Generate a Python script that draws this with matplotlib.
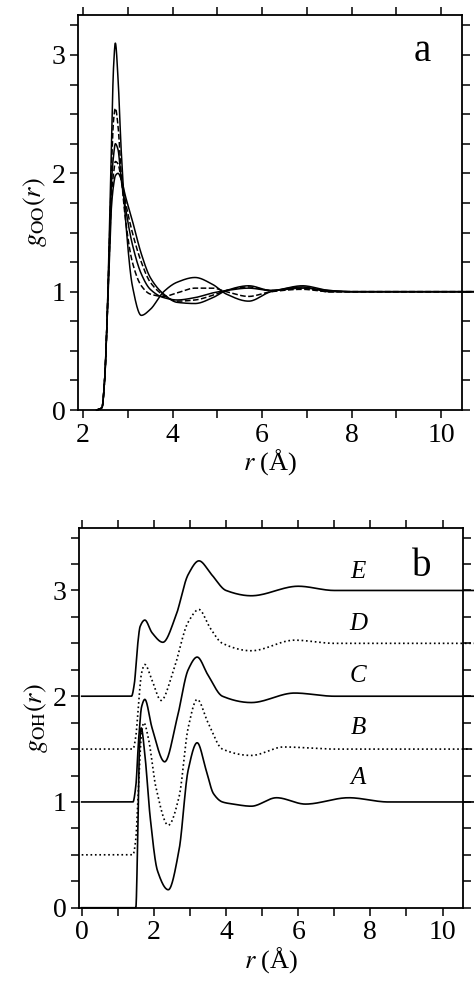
import numpy as np
import matplotlib
matplotlib.use("Agg")
import matplotlib.pyplot as plt
from matplotlib.ticker import MultipleLocator

plt.rcParams['font.family'] = ['Liberation Serif', 'DejaVu Serif']
plt.rcParams['mathtext.fontset'] = 'stix'

# ---- panel a: g_OO(r) ----
r_oo = [2.3, 2.42, 2.48, 2.53, 2.58, 2.63, 2.68, 2.72, 2.78, 2.85, 2.95, 3.1, 3.3, 3.5, 3.8, 4.1, 4.5,
        4.9, 5.2, 5.7, 6.2, 6.9, 7.5, 8.0, 10.74]
g_oo_1 = [0, 0.02, 0.25, 0.7, 1.4, 2.2, 2.9, 3.1, 2.8, 2.2, 1.6, 1.05, 0.8, 0.85, 1.0, 1.08, 1.12, 1.06, 0.98, 0.92, 1.0, 1.04, 1.0, 1.0, 1.0]
g_oo_2 = [0, 0.02, 0.25, 0.7, 1.35, 2.0, 2.45, 2.55, 2.4, 2.0, 1.6, 1.25, 1.05, 0.98, 0.96, 0.99, 1.03, 1.03, 1.0, 0.96, 1.0, 1.02, 1.0, 1.0, 1.0]
g_oo_3 = [0, 0.02, 0.25, 0.7, 1.3, 1.9, 2.15, 2.25, 2.2, 1.95, 1.7, 1.4, 1.15, 1.02, 0.95, 0.93, 0.95, 0.99, 1.01, 1.03, 1.01, 1.03, 1.01, 1.0, 1.0]
g_oo_4 = [0, 0.02, 0.25, 0.7, 1.25, 1.8, 2.0, 2.1, 2.08, 1.95, 1.75, 1.5, 1.25, 1.08, 0.97, 0.92, 0.93, 0.97, 1.01, 1.04, 1.01, 1.03, 1.0, 1.0, 1.0]
g_oo_5 = [0, 0.02, 0.25, 0.7, 1.2, 1.7, 1.9, 1.98, 2.0, 1.95, 1.8, 1.6, 1.32, 1.12, 0.98, 0.91, 0.9, 0.95, 1.01, 1.05, 1.01, 1.05, 1.01, 1.0, 1.0]
styles_oo = ['-', '--', '-', '--', '-']

# ---- panel b: g_OH(r), curves A..E (already offset) ----
r_A = [0, 1.5, 1.55, 1.6, 1.65, 1.75, 1.9, 2.1, 2.4, 2.7, 2.95, 3.2, 3.45, 3.65, 3.9, 4.2, 4.7, 5.4, 6.2, 7.4, 8.5, 10.88]
g_A = [0, 0, 0.6, 1.5, 1.7, 1.45, 0.85, 0.35, 0.17, 0.55, 1.3, 1.56, 1.3, 1.08, 1.0, 0.98, 0.96, 1.04, 0.98, 1.04, 1.0, 1.0]
r_B = [0, 1.42, 1.5, 1.58, 1.66, 1.72, 1.85, 2.05, 2.4, 2.7, 2.95, 3.2, 3.5, 3.9, 4.7, 5.6, 7.0, 10.88]
g_B = [0.5, 0.5, 0.65, 1.2, 1.65, 1.75, 1.6, 1.15, 0.78, 1.05, 1.7, 1.97, 1.75, 1.5, 1.44, 1.52, 1.5, 1.5]
r_C = [0, 1.42, 1.5, 1.58, 1.66, 1.75, 1.95, 2.3, 2.65, 2.95, 3.2, 3.5, 3.9, 4.7, 5.9, 7.0, 10.88]
g_C = [1.0, 1.0, 1.15, 1.6, 1.9, 1.97, 1.7, 1.38, 1.8, 2.25, 2.37, 2.2, 2.0, 1.94, 2.03, 2.0, 2.0]
r_D = [0, 1.42, 1.5, 1.58, 1.66, 1.75, 1.95, 2.2, 2.55, 2.95, 3.25, 3.55, 3.9, 4.7, 5.9, 7.0, 10.88]
g_D = [1.5, 1.5, 1.62, 1.95, 2.22, 2.3, 2.15, 1.96, 2.25, 2.7, 2.82, 2.65, 2.5, 2.43, 2.53, 2.5, 2.5]
r_E = [0, 1.38, 1.46, 1.54, 1.62, 1.75, 1.95, 2.25, 2.6, 2.95, 3.25, 3.6, 4.0, 4.7, 6.0, 7.0, 10.88]
g_E = [2.0, 2.0, 2.12, 2.45, 2.66, 2.72, 2.6, 2.51, 2.75, 3.15, 3.28, 3.15, 3.0, 2.95, 3.04, 3.0, 3.0]
labels_b = ['A', 'B', 'C', 'D', 'E']
label_y_b = [1.23, 1.70, 2.19, 2.68, 3.17]
styles_b = ['-', ':', '-', ':', '-']


def smooth(x, y, n=30):
    """Monotone cubic (PCHIP) drawing through the read points (rendering only)."""
    x = np.asarray(x, float); y = np.asarray(y, float)
    h = np.diff(x); d = np.diff(y) / h
    m = np.zeros_like(y)
    for k in range(1, len(x) - 1):
        if d[k - 1] * d[k] > 0:
            w1 = 2 * h[k] + h[k - 1]; w2 = h[k] + 2 * h[k - 1]
            m[k] = (w1 + w2) / (w1 / d[k - 1] + w2 / d[k])
    m[0] = d[0] if len(d) else 0
    m[-1] = d[-1]
    xs, ys = [], []
    for k in range(len(x) - 1):
        t = np.linspace(0, 1, n, endpoint=False)
        h00 = 2 * t**3 - 3 * t**2 + 1; h10 = t**3 - 2 * t**2 + t
        h01 = -2 * t**3 + 3 * t**2; h11 = t**3 - t**2
        xs.append(x[k] + t * h[k])
        ys.append(h00 * y[k] + h10 * h[k] * m[k] + h01 * y[k + 1] + h11 * h[k] * m[k + 1])
    xs.append([x[-1]]); ys.append([y[-1]])
    return np.concatenate(xs), np.concatenate(ys)


fig = plt.figure(figsize=(4.74, 9.81), dpi=100)
ax1 = fig.add_axes([0.165, 0.582, 0.810, 0.403])
ax2 = fig.add_axes([0.167, 0.0747, 0.810, 0.387])

for g, ls in zip([g_oo_1, g_oo_2, g_oo_3, g_oo_4, g_oo_5], styles_oo):
    xs, ys = smooth(r_oo, g)
    ax1.plot(xs, ys, ls, color='black', lw=1.1, clip_on=False)
ax1.set_xlim(1.89, 10.47)
ax1.set_ylim(0, 3.34)
ax1.xaxis.set_major_locator(MultipleLocator(2))
ax1.xaxis.set_minor_locator(MultipleLocator(1))
ax1.yaxis.set_major_locator(MultipleLocator(1))
ax1.yaxis.set_minor_locator(MultipleLocator(0.25))
ax1.set_xlabel('$r$ (Å)', fontsize=19, labelpad=0)
ax1.set_ylabel('$g_{\\rm OO}(r)$', fontsize=19, labelpad=2)
ax1.text(9.57, 3.03, 'a', fontsize=28, ha='center', va='center')

for (r, g), ls in zip([(r_A, g_A), (r_B, g_B), (r_C, g_C), (r_D, g_D), (r_E, g_E)], styles_b):
    xs, ys = smooth(r, g)
    ax2.plot(xs, ys, ls, color='black', lw=1.2, clip_on=False)
for lab, yy in zip(labels_b, label_y_b):
    ax2.text(7.66, yy, lab, fontsize=18, style='italic', ha='center', va='center')
ax2.text(9.43, 3.23, 'b', fontsize=28, ha='center', va='center')
ax2.set_xlim(-0.07, 10.57)
ax2.set_ylim(0, 3.59)
ax2.xaxis.set_major_locator(MultipleLocator(2))
ax2.xaxis.set_minor_locator(MultipleLocator(1))
ax2.yaxis.set_major_locator(MultipleLocator(1))
ax2.yaxis.set_minor_locator(MultipleLocator(0.25))
ax2.set_xlabel('$r$ (Å)', fontsize=19, labelpad=0)
ax2.set_ylabel('$g_{\\rm OH}(r)$', fontsize=19, labelpad=2)

for ax in (ax1, ax2):
    for s in ax.spines.values():
        s.set_linewidth(1.3)
    ax.tick_params(which='both', direction='out', top=True, right=True,
                   labelsize=20, width=1.1, length=6, pad=3)

fig.savefig('out.png', dpi=100)
